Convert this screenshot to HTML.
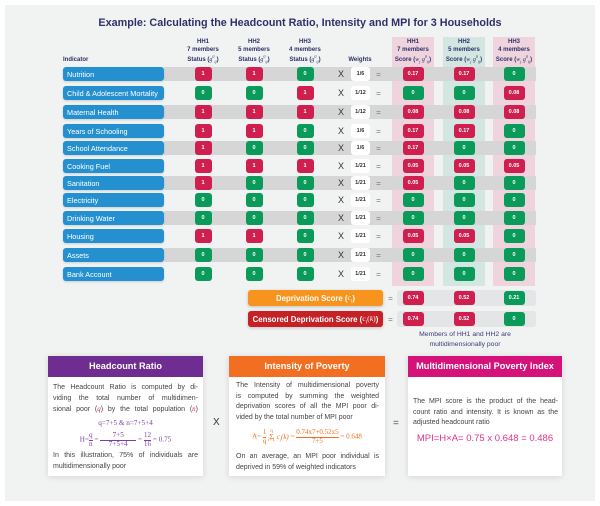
<!DOCTYPE html>
<html><head><meta charset="utf-8">
<style>
*{margin:0;padding:0;box-sizing:border-box}
body{width:600px;height:506px;background:#fff;font-family:"Liberation Sans",sans-serif;position:relative;overflow:hidden}
.abs{position:absolute}
.panel{left:5px;top:5px;width:590px;height:496px;background:#f1f2f2}
.title{left:0;width:600px;top:17px;text-align:center;font-size:10.8px;font-weight:bold;color:#2e3168}
.hd{position:absolute;text-align:center;font-size:6px;font-weight:bold;color:#2e3168;line-height:7.5px;width:60px}
.hd sup,.hd sub{line-height:0}
.col{position:absolute;top:37px;height:249px;width:42px}
.pink{background:#efd4de}
.teal{background:#d3e6e2}
.stripe{position:absolute;left:164px;width:372px;height:14px;background:#d6d6d6}
.row{position:absolute;left:0;width:600px;height:14px}
.ind{position:absolute;left:63px;width:101px;height:14px;background:#2490d0;border-radius:3px;color:#fff;font-size:7.3px;display:flex;align-items:center;padding-left:4px;box-shadow:0 1px 2px rgba(0,0,0,.15);white-space:nowrap}
.b{position:absolute;width:17px;height:14px;border-radius:3px;color:#fff;font-size:5.5px;font-weight:bold;display:flex;align-items:center;justify-content:center}
.s{width:21px}
.r{background:#cf1f4f}
.g{background:#0a9b5b}
.x{position:absolute;left:336px;width:10px;height:14px;font-size:9px;color:#333;display:flex;align-items:center;justify-content:center}
.w{position:absolute;left:351px;width:19px;height:14px;background:#fff;border-radius:3px;font-size:5.5px;color:#333;display:flex;align-items:center;justify-content:center;font-weight:bold}
.eq{position:absolute;left:374px;width:9px;height:14px;font-size:8px;color:#777;display:flex;align-items:center;justify-content:center}
.box{position:absolute;top:356px;height:120px;background:#fff;box-shadow:0 1px 6px rgba(0,0,0,.12)}
.bh{height:21px;color:#fff;font-weight:bold;font-size:9.2px;text-align:center;line-height:21px}
.tx{position:absolute;font-size:7px;color:#444;line-height:10.6px}
.j{text-align:justify;text-align-last:justify;white-space:nowrap}
.fr{display:inline-block;vertical-align:middle;text-align:center;line-height:7.5px}
.fr span{display:block}
.fr .n{border-bottom:0.7px solid currentColor}
.serif{font-family:"Liberation Serif",serif}
</style></head><body>
<div class="abs panel"></div>
<div class="abs title">Example: Calculating the Headcount Ratio, Intensity and MPI for 3 Households</div>

<div class="col pink" style="left:392px"></div>
<div class="col teal" style="left:443px"></div>
<div class="col pink" style="left:493px"></div>

<div class="hd" style="left:173px;top:39px">HH1<br>7 members</div>
<div class="hd" style="left:224px;top:39px">HH2<br>5 members</div>
<div class="hd" style="left:275px;top:39px">HH3<br>4 members</div>
<div class="hd" style="left:383px;top:39px">HH1<br>7 members</div>
<div class="hd" style="left:434px;top:39px">HH2<br>5 members</div>
<div class="hd" style="left:484px;top:39px">HH3<br>4 members</div>
<div class="hd" style="left:173px;top:57px">Status (<i class="serif" style="font-weight:normal">g<sup style="font-size:4px">0</sup><sub style="font-size:4px">ij</sub></i>)</div>
<div class="hd" style="left:224px;top:57px">Status (<i class="serif" style="font-weight:normal">g<sup style="font-size:4px">0</sup><sub style="font-size:4px">ij</sub></i>)</div>
<div class="hd" style="left:275px;top:57px">Status (<i class="serif" style="font-weight:normal">g<sup style="font-size:4px">0</sup><sub style="font-size:4px">ij</sub></i>)</div>
<div class="hd" style="left:330px;top:57px">Weights</div>
<div class="hd" style="left:383px;top:57px">Score (<i class="serif" style="font-weight:normal">w<sub style="font-size:4px">j</sub> g<sup style="font-size:4px">0</sup><sub style="font-size:4px">ij</sub></i>)</div>
<div class="hd" style="left:434px;top:57px">Score (<i class="serif" style="font-weight:normal">w<sub style="font-size:4px">j</sub> g<sup style="font-size:4px">0</sup><sub style="font-size:4px">ij</sub></i>)</div>
<div class="hd" style="left:484px;top:57px">Score (<i class="serif" style="font-weight:normal">w<sub style="font-size:4px">j</sub> g<sup style="font-size:4px">0</sup><sub style="font-size:4px">ij</sub></i>)</div>
<div class="hd" style="left:63px;top:57px;text-align:left">Indicator</div>

<div class="stripe" style="top:67px"></div>
<div class="stripe" style="top:105px"></div>
<div class="stripe" style="top:141px"></div>
<div class="stripe" style="top:176px"></div>
<div class="stripe" style="top:211px"></div>
<div class="stripe" style="top:248px"></div>

<div class="row" style="top:67px"><div class="ind">Nutrition</div><div class="b r" style="left:194.5px">1</div><div class="b r" style="left:245.5px">1</div><div class="b g" style="left:296.5px">0</div><div class="x">X</div><div class="w">1/6</div><div class="eq">=</div><div class="b s r" style="left:402.5px">0.17</div><div class="b s r" style="left:453.5px">0.17</div><div class="b s g" style="left:503.5px">0</div></div>
<div class="row" style="top:86px"><div class="ind">Child &amp; Adolescent Mortality</div><div class="b g" style="left:194.5px">0</div><div class="b g" style="left:245.5px">0</div><div class="b r" style="left:296.5px">1</div><div class="x">X</div><div class="w">1/12</div><div class="eq">=</div><div class="b s g" style="left:402.5px">0</div><div class="b s g" style="left:453.5px">0</div><div class="b s r" style="left:503.5px">0.08</div></div>
<div class="row" style="top:105px"><div class="ind">Maternal Health</div><div class="b r" style="left:194.5px">1</div><div class="b r" style="left:245.5px">1</div><div class="b r" style="left:296.5px">1</div><div class="x">X</div><div class="w">1/12</div><div class="eq">=</div><div class="b s r" style="left:402.5px">0.08</div><div class="b s r" style="left:453.5px">0.08</div><div class="b s r" style="left:503.5px">0.08</div></div>
<div class="row" style="top:124px"><div class="ind">Years of Schooling</div><div class="b r" style="left:194.5px">1</div><div class="b r" style="left:245.5px">1</div><div class="b g" style="left:296.5px">0</div><div class="x">X</div><div class="w">1/6</div><div class="eq">=</div><div class="b s r" style="left:402.5px">0.17</div><div class="b s r" style="left:453.5px">0.17</div><div class="b s g" style="left:503.5px">0</div></div>
<div class="row" style="top:141px"><div class="ind">School Attendance</div><div class="b r" style="left:194.5px">1</div><div class="b g" style="left:245.5px">0</div><div class="b g" style="left:296.5px">0</div><div class="x">X</div><div class="w">1/6</div><div class="eq">=</div><div class="b s r" style="left:402.5px">0.17</div><div class="b s g" style="left:453.5px">0</div><div class="b s g" style="left:503.5px">0</div></div>
<div class="row" style="top:159px"><div class="ind">Cooking Fuel</div><div class="b r" style="left:194.5px">1</div><div class="b r" style="left:245.5px">1</div><div class="b r" style="left:296.5px">1</div><div class="x">X</div><div class="w">1/21</div><div class="eq">=</div><div class="b s r" style="left:402.5px">0.05</div><div class="b s r" style="left:453.5px">0.05</div><div class="b s r" style="left:503.5px">0.05</div></div>
<div class="row" style="top:176px"><div class="ind">Sanitation</div><div class="b r" style="left:194.5px">1</div><div class="b g" style="left:245.5px">0</div><div class="b g" style="left:296.5px">0</div><div class="x">X</div><div class="w">1/21</div><div class="eq">=</div><div class="b s r" style="left:402.5px">0.05</div><div class="b s g" style="left:453.5px">0</div><div class="b s g" style="left:503.5px">0</div></div>
<div class="row" style="top:193px"><div class="ind">Electricity</div><div class="b g" style="left:194.5px">0</div><div class="b g" style="left:245.5px">0</div><div class="b g" style="left:296.5px">0</div><div class="x">X</div><div class="w">1/21</div><div class="eq">=</div><div class="b s g" style="left:402.5px">0</div><div class="b s g" style="left:453.5px">0</div><div class="b s g" style="left:503.5px">0</div></div>
<div class="row" style="top:211px"><div class="ind">Drinking Water</div><div class="b g" style="left:194.5px">0</div><div class="b g" style="left:245.5px">0</div><div class="b g" style="left:296.5px">0</div><div class="x">X</div><div class="w">1/21</div><div class="eq">=</div><div class="b s g" style="left:402.5px">0</div><div class="b s g" style="left:453.5px">0</div><div class="b s g" style="left:503.5px">0</div></div>
<div class="row" style="top:229px"><div class="ind">Housing</div><div class="b r" style="left:194.5px">1</div><div class="b r" style="left:245.5px">1</div><div class="b g" style="left:296.5px">0</div><div class="x">X</div><div class="w">1/21</div><div class="eq">=</div><div class="b s r" style="left:402.5px">0.05</div><div class="b s r" style="left:453.5px">0.05</div><div class="b s g" style="left:503.5px">0</div></div>
<div class="row" style="top:248px"><div class="ind">Assets</div><div class="b g" style="left:194.5px">0</div><div class="b g" style="left:245.5px">0</div><div class="b g" style="left:296.5px">0</div><div class="x">X</div><div class="w">1/21</div><div class="eq">=</div><div class="b s g" style="left:402.5px">0</div><div class="b s g" style="left:453.5px">0</div><div class="b s g" style="left:503.5px">0</div></div>
<div class="row" style="top:267px"><div class="ind">Bank Account</div><div class="b g" style="left:194.5px">0</div><div class="b g" style="left:245.5px">0</div><div class="b g" style="left:296.5px">0</div><div class="x">X</div><div class="w">1/21</div><div class="eq">=</div><div class="b s g" style="left:402.5px">0</div><div class="b s g" style="left:453.5px">0</div><div class="b s g" style="left:503.5px">0</div></div>

<!-- deprivation score rows -->
<div class="abs" style="left:397px;top:290px;width:139px;height:16px;background:#e4e5e6;border-radius:3px"></div>
<div class="abs" style="left:397px;top:311px;width:139px;height:16px;background:#e4e5e6;border-radius:3px"></div>
<div class="abs" style="left:248px;top:290px;width:135px;height:16px;background:#f7941d;border-radius:3px;color:#fff;font-weight:bold;font-size:7.8px;display:flex;align-items:center;justify-content:center;box-shadow:0 1px 3px rgba(0,0,0,.2);white-space:nowrap">Deprivation Score (<span class="serif" style="font-weight:normal">c<sub style="font-size:5px;line-height:0">i</sub></span>)</div>
<div class="abs" style="left:248px;top:311px;width:135px;height:16px;background:#c62127;border-radius:3px;color:#fff;font-weight:bold;font-size:7.8px;display:flex;align-items:center;justify-content:center;box-shadow:0 1px 3px rgba(0,0,0,.2);white-space:nowrap">Censored Deprivation Score (<span class="serif" style="font-weight:normal">c<sub style="font-size:5px;line-height:0">i</sub>(<i>k</i>)</span>)</div>
<div class="row" style="top:291px"><div class="eq" style="left:386px">=</div><div class="b s r" style="left:402.5px">0.74</div><div class="b s r" style="left:453.5px">0.52</div><div class="b s g" style="left:503.5px">0.21</div></div>
<div class="row" style="top:312px"><div class="eq" style="left:386px">=</div><div class="b s r" style="left:402.5px">0.74</div><div class="b s r" style="left:453.5px">0.52</div><div class="b s g" style="left:503.5px">0</div></div>

<div class="abs" style="left:385px;top:330px;width:160px;text-align:center;font-size:6.8px;color:#3a3c7a;line-height:9.5px">Members of HH1 and HH2 are<br>multidimensionally poor</div>

<!-- bottom boxes -->
<div class="box" style="left:48px;width:155px">
  <div class="bh" style="background:#6f2c91">Headcount Ratio</div>
</div>
<div class="tx" style="left:53px;top:383px;width:145px">
  <div class="j">The Headcount Ratio is computed by di-</div>
  <div class="j">viding the total number of multidimen-</div>
  <div class="j">sional poor (<i class="serif" style="color:#d4127a">q</i>) by the total population (<i class="serif" style="color:#d4127a">n</i>)</div>
</div>
<div class="abs serif" style="left:48px;top:419px;width:155px;text-align:center;font-size:7.2px;color:#7b3fa0">q=7+5 &amp; n=7+5+4</div>
<div class="abs serif" style="left:48px;top:432px;width:155px;text-align:center;font-size:7.2px;color:#7b3fa0;white-space:nowrap">H=<span class="fr"><span class="n">q</span><span>n</span></span> = <span class="fr" style="width:36px"><span class="n">7+5</span><span>7+5+4</span></span> = <span class="fr"><span class="n">12</span><span>16</span></span> = 0.75</div>
<div class="tx" style="left:53px;top:451px;width:145px">
  <div class="j">In this illustration, 75% of individuals are</div>
  <div>multidimensionally poor</div>
</div>

<div class="abs" style="left:213px;top:417px;font-size:10px;color:#333">X</div>

<div class="box" style="left:229px;width:156px">
  <div class="bh" style="background:#f26f21">Intensity of Poverty</div>
</div>
<div class="tx" style="left:236px;top:381px;width:143px">
  <div class="j">The Intensity of multidimensional poverty</div>
  <div class="j">is computed by summing the weighted</div>
  <div class="j">deprivation scores of all the MPI poor di-</div>
  <div>vided by the total number of MPI poor</div>
</div>
<div class="abs serif" style="left:229px;top:429px;width:156px;text-align:center;font-size:7px;color:#f26f21;white-space:nowrap">A= <span class="fr"><span class="n">1</span><span>q</span></span> <span class="fr" style="font-size:5px;line-height:4.5px"><span>q</span><span style="font-size:7.5px">&Sigma;</span><span>i=1</span></span> <i>c<sub style="font-size:4.5px;line-height:0">i</sub>(k)</i> = <span class="fr"><span class="n">0.74x7+0.52x5</span><span>7+5</span></span> = 0.648</div>
<div class="tx" style="left:236px;top:452px;width:143px">
  <div class="j">On an average, an MPI poor individual is</div>
  <div>deprived in 59% of weighted indicators</div>
</div>

<div class="abs" style="left:393px;top:418px;font-size:10px;color:#555">=</div>

<div class="box" style="left:408px;width:154px">
  <div class="bh" style="background:#d4127a">Multidimensional Poverty Index</div>
</div>
<div class="tx" style="left:413px;top:397px;width:145px">
  <div class="j">The MPI score is the product of the head-</div>
  <div class="j">count ratio and intensity. It is known as the</div>
  <div>adjusted headcount ratio</div>
</div>
<div class="abs" style="left:408px;top:433px;width:154px;text-align:center;font-size:9.5px;color:#e0338a;white-space:nowrap">MPI=H×A= 0.75 x 0.648 = 0.486</div>
</body></html>
